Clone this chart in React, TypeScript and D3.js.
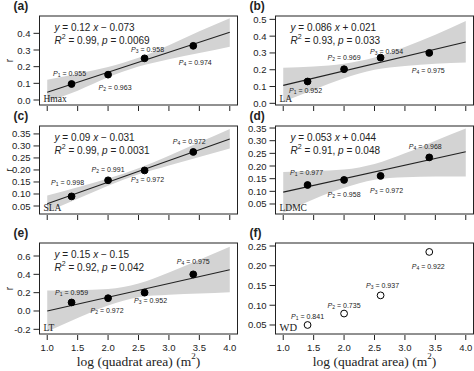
import React from 'react';
import * as d3 from 'd3';

// x positions (log quadrat area) shared by all traits
const xPoints = [1.4, 2.0, 2.6, 3.4];
const xTicks = [1.0, 1.5, 2.0, 2.5, 3.0, 3.5, 4.0];
const bandX = [1.0, 1.5, 2.0, 2.5, 3.0, 3.5, 4.0];
const lineX = [1.0, 4.0];

// observed r per trait
const hmaxR = [0.096, 0.152, 0.25, 0.325];
const laR = [0.13, 0.203, 0.272, 0.3];
const slaR = [0.09, 0.157, 0.198, 0.275];
const ldmcR = [0.125, 0.145, 0.161, 0.234];
const ltR = [0.093, 0.14, 0.2, 0.4];
const wdR = [0.05, 0.079, 0.125, 0.235];

// P values per point
const hmaxP = ['0.955', '0.963', '0.958', '0.974'];
const laP = ['0.952', '0.969', '0.954', '0.975'];
const slaP = ['0.998', '0.991', '0.972', '0.972'];
const ldmcP = ['0.977', '0.958', '0.972', '0.968'];
const ltP = ['0.959', '0.972', '0.952', '0.975'];
const wdP = ['0.841', '0.735', '0.937', '0.922'];

// fitted line ends (at x = 1 and 4)
const hmaxLine = [0.047, 0.407];
const laLine = [0.107, 0.365];
const slaLine = [0.059, 0.329];
const ldmcLine = [0.097, 0.256];
const ltLine = [0.0, 0.45];

// confidence band read at bandX
const hmaxUpper = [0.122, 0.158, 0.198, 0.253, 0.329, 0.412, 0.49];
const hmaxLower = [-0.01, 0.056, 0.136, 0.201, 0.245, 0.282, 0.32];
const laUpper = [0.212, 0.219, 0.236, 0.273, 0.336, 0.409, 0.49];
const laLower = [0.01, 0.081, 0.15, 0.2, 0.222, 0.235, 0.243];
const slaUpper = [0.094, 0.128, 0.164, 0.207, 0.259, 0.315, 0.371];
const slaLower = [0.026, 0.08, 0.134, 0.182, 0.219, 0.254, 0.289];
const ldmcUpper = [0.176, 0.18, 0.186, 0.208, 0.25, 0.3, 0.348];
const ldmcLower = [0.015, 0.069, 0.114, 0.146, 0.156, 0.159, 0.159];
const ltUpper = [0.225, 0.227, 0.239, 0.299, 0.42, 0.56, 0.7];
const ltLower = [-0.225, -0.077, 0.061, 0.151, 0.176, 0.19, 0.205];

// equation text
const slopes = ['0.12', '0.086', '0.09', '0.053', '0.15'];
const signs = ['−', '+', '−', '+', '−'];
const intercepts = ['0.073', '0.021', '0.031', '0.044', '0.15'];
const r2s = ['0.99', '0.93', '0.99', '0.91', '0.92'];
const pvals = ['0.0069', '0.033', '0.0031', '0.048', '0.042'];

const traits = ['Hmax', 'LA', 'SLA', 'LDMC', 'LT', 'WD'];
const letters = ['(a)', '(b)', '(c)', '(d)', '(e)', '(f)'];

const yTicksA = [0, 0.1, 0.2, 0.3, 0.4];
const yTicksB = [0, 0.1, 0.2, 0.3, 0.4, 0.5];
const yTicksC = [0.05, 0.1, 0.15, 0.2, 0.25, 0.3, 0.35];
const yTicksE = [-0.2, 0, 0.2, 0.4, 0.6];
const yTicksF = [0.05, 0.1, 0.15, 0.2, 0.25];

// layout
const cols = [[39.5, 237.5], [275.5, 473.5]];
const rows = [[16, 105], [126, 214], [243, 334]];
const xDomain = [0.873, 4.127];
const yDomains = [[-0.03, 0.504], [-0.01, 0.52], [0.0167, 0.383], [0.0105, 0.358], [-0.251, 0.742], [0.0272, 0.2576]];
const labelOffsets = [
  [[-2, -11], [7, 12], [3, -9], [2, 16]],
  [[-2, 9], [0, -12], [6, -7], [-1, 17]],
  [[-4, -14], [0, -11], [3, 9], [-4, -11]],
  [[-1, -13], [0, 14], [6, 14], [-4, -11]],
  [[0, -10], [-1, 12], [6, 7], [0, -13]],
  [[0, -9], [0, -9], [2, -10], [-1, 14]],
];

const SANS = '"Liberation Sans", Arial, sans-serif';
const SERIF = '"Liberation Serif", "Times New Roman", serif';
const INK = '#222';

const panels = [
  {r: hmaxR, p: hmaxP, line: hmaxLine, up: hmaxUpper, lo: hmaxLower, ticks: yTicksA, fmt: '.1f'},
  {r: laR, p: laP, line: laLine, up: laUpper, lo: laLower, ticks: yTicksB, fmt: '.1f'},
  {r: slaR, p: slaP, line: slaLine, up: slaUpper, lo: slaLower, ticks: yTicksC, fmt: '.2f'},
  {r: ldmcR, p: ldmcP, line: ldmcLine, up: ldmcUpper, lo: ldmcLower, ticks: yTicksC, fmt: '.2f'},
  {r: ltR, p: ltP, line: ltLine, up: ltUpper, lo: ltLower, ticks: yTicksE, fmt: '.1f'},
  {r: wdR, p: wdP, line: null, up: null, lo: null, ticks: yTicksF, fmt: '.2f'},
];

const Panel = ({i}) => {
  const d = panels[i];
  const [x0, x1] = cols[i % 2];
  const row = Math.floor(i / 2);
  const [y0, y1] = rows[row];
  const x = d3.scaleLinear().domain(xDomain).range([x0, x1]);
  const y = d3.scaleLinear().domain(yDomains[i]).range([y1, y0]);
  const fmt = d3.format(d.fmt);
  const clipId = `clip-${i}`;

  const area = d3
    .area<number>()
    .x(v => x(v))
    .y0((v, k) => y(d.lo[k]))
    .y1((v, k) => y(d.up[k]))
    .curve(d3.curveMonotoneX);
  const line = d3
    .line<number>()
    .x(v => x(v))
    .y((v, k) => y(d.line[k]));

  return (
    <g>
      <defs>
        <clipPath id={clipId}>
          <rect x={x0} y={y0} width={x1 - x0} height={y1 - y0} />
        </clipPath>
      </defs>
      <text x={x0 - 26} y={y0 - 10} fontFamily={SANS} fontSize={12} fontWeight="bold" fill={INK} dominantBaseline="central">
        {letters[i]}
      </text>
      {d.up && (
        <g clipPath={`url(#${clipId})`}>
          <path d={area(bandX)} fill="#d3d3d3" />
          <path d={line(lineX)} fill="none" stroke={INK} strokeWidth={1.1} />
        </g>
      )}
      <rect x={x0} y={y0} width={x1 - x0} height={y1 - y0} fill="none" stroke={INK} strokeWidth={1} />
      {/* y axis */}
      {d.ticks.map(t => (
        <g key={t}>
          <line x1={x0 - 6} x2={x0} y1={y(t)} y2={y(t)} stroke={INK} />
          <text x={x0 - 9} y={y(t)} textAnchor="end" dominantBaseline="central" fontFamily={SANS} fontSize={9.5} fill={INK}>
            {fmt(t).replace('−', '-')}
          </text>
        </g>
      ))}
      {/* x axis */}
      {xTicks.map(t => (
        <g key={t}>
          <line x1={x(t)} x2={x(t)} y1={y1 + 1} y2={y1 + 6} stroke={INK} />
          {row === 2 && (
            <text x={x(t)} y={y1 + 13} textAnchor="middle" dominantBaseline="central" fontFamily={SANS} fontSize={9.5} fill={INK}>
              {t.toFixed(1)}
            </text>
          )}
        </g>
      ))}
      {i % 2 === 0 && (
        <text
          transform={`translate(9, ${(y0 + y1) / 2}) rotate(-90)`}
          textAnchor="middle"
          dominantBaseline="central"
          fontFamily={SANS}
          fontSize={10}
          fill={INK}>
          r
        </text>
      )}
      {row === 2 && (
        <text x={(x0 + x1) / 2} y={y1 + 27} textAnchor="middle" dominantBaseline="central" fontFamily={SERIF} fontSize={13.5} fill={INK}>
          log (quadrat area) (m<tspan dy={-5} fontSize={9}>2</tspan>
          <tspan dy={5}>)</tspan>
        </text>
      )}
      {i < 5 && (
        <g fontFamily={SANS} fontSize={10} fill={INK} style={{whiteSpace: 'pre'}}>
          <text x={x0 + 15} y={y0 + 11} dominantBaseline="central">
            <tspan fontStyle="italic">y</tspan>
            {` = ${slopes[i]} `}
            <tspan fontStyle="italic">x</tspan>
            {` ${signs[i]} ${intercepts[i]}`}
          </text>
          <text x={x0 + 15} y={y0 + 24} dominantBaseline="central">
            <tspan fontStyle="italic">R</tspan>
            <tspan dy={-4} fontSize={7}>2</tspan>
            <tspan dy={4}>{` = ${r2s[i]},  `}</tspan>
            <tspan fontStyle="italic">p</tspan>
            {`  = ${pvals[i]}`}
          </text>
        </g>
      )}
      <text x={x0 + 4} y={y1 - 3} fontFamily={SERIF} fontSize={i === 5 ? 10.5 : 9.5} fill={INK}>
        {traits[i]}
      </text>
      {xPoints.map((xv, k) => (
        <circle
          key={k}
          cx={x(xv)}
          cy={y(d.r[k])}
          r={3.4}
          fill={i === 5 ? 'white' : '#000'}
          stroke="#000"
          strokeWidth={1}
        />
      ))}
      {xPoints.map((xv, k) => (
        <text
          key={k}
          x={x(xv) + labelOffsets[i][k][0]}
          y={y(d.r[k]) + labelOffsets[i][k][1]}
          textAnchor="middle"
          dominantBaseline="central"
          fontFamily={SANS}
          fontSize={7}
          fill={INK}
          style={{whiteSpace: 'pre'}}>
          <tspan fontStyle="italic">P</tspan>
          <tspan dy={2} fontSize={5}>{k + 1}</tspan>
          <tspan dy={-2}>{` = ${d.p[k]}`}</tspan>
        </text>
      ))}
    </g>
  );
};

export default function App() {
  return (
    <svg width={474} height={371} style={{position: 'absolute', left: 0, top: 0, background: 'white'}}>
      {panels.map((p, i) => (
        <Panel key={i} i={i} />
      ))}
    </svg>
  );
}
